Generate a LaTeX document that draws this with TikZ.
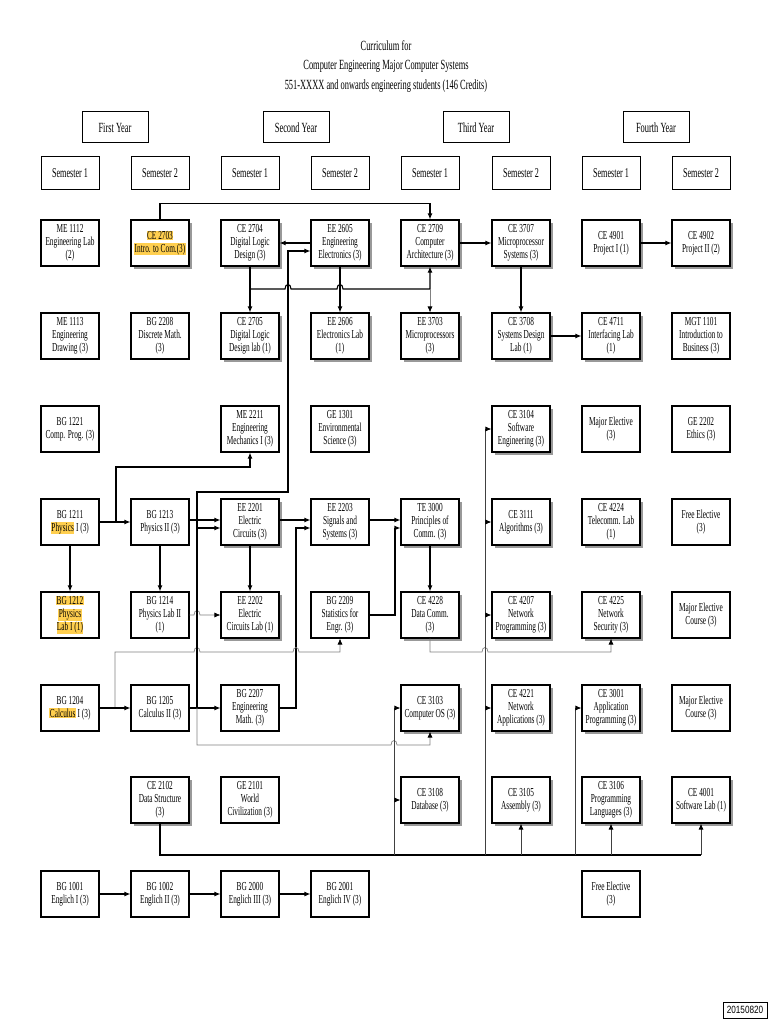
\documentclass[tikz,border=0pt]{standalone}
\usepackage{fontspec}
\setmainfont{Liberation Serif}[FakeStretch=0.6]
\newfontfamily\stampfont{Liberation Sans}[FakeStretch=0.78]
\usetikzlibrary{arrows.meta,shadows}
\definecolor{hly}{HTML}{FFCF4F}
\newcommand{\hlt}[1]{{\setlength{\fboxsep}{0.4pt}\colorbox{hly}{#1}}}
\begin{document}
\begin{tikzpicture}[x=1pt,y=-1pt,
  course/.style={draw, line width=1.1pt, fill=white, minimum width=58pt, minimum height=46pt, inner sep=0pt, align=center, font=\fontsize{12.2}{13}\selectfont},
  shad/.style={course, drop shadow={shadow xshift=3pt, shadow yshift=-3pt, fill=black!40, opacity=1}},
  sem/.style={draw, line width=1pt, minimum width=58pt, minimum height=33pt, inner sep=0pt, font=\fontsize{13.5}{14}\selectfont},
  yearbox/.style={draw, line width=1pt, minimum width=66pt, minimum height=31pt, inner sep=0pt, font=\fontsize{14}{15}\selectfont},
  conn/.style={line width=1.1pt, -{Latex[length=6pt,width=5pt]}},
  mid/.style={line width=0.8pt, draw=black!75, -{Latex[length=6pt,width=5pt,color=black]}},
  thinc/.style={line width=0.7pt, draw=black!50, -{Latex[length=6pt,width=5pt,color=black]}},
  plainline/.style={line width=1.1pt}
]
\useasboundingbox (0,0) rectangle (768,1024);

% title
\node[font=\fontsize{14}{19.5}\selectfont, align=center] (title) at (386,66.5)
  {Curriculum for\\Computer Engineering Major Computer Systems\\551-XXXX and onwards engineering students (146 Credits)};

% years
\node[yearbox] (y1) at (115,127.5) {First Year};
\node[yearbox] (y2) at (296,127.5) {Second Year};
\node[yearbox] (y3) at (476,127.5) {Third Year};
\node[yearbox] (y4) at (656,127.5) {Fourth Year};

% semesters
\node[sem] (s1) at (70,173.5) {Semester 1};
\node[sem] (s2) at (160,173.5) {Semester 2};
\node[sem] (s3) at (250,173.5) {Semester 1};
\node[sem] (s4) at (340,173.5) {Semester 2};
\node[sem] (s5) at (430,173.5) {Semester 1};
\node[sem] (s6) at (521,173.5) {Semester 2};
\node[sem] (s7) at (611,173.5) {Semester 1};
\node[sem] (s8) at (701,173.5) {Semester 2};

% row 1
\node[course] (me1112) at (70,243) {ME 1112\\Engineering Lab\\(2)};
\node[shad] (ce2703) at (160,243) {\hlt{CE 2703}\\\hlt{Intro. to Com.(3)}};
\node[shad] (ce2704) at (250,243) {CE 2704\\Digital Logic\\Design (3)};
\node[shad] (ee2605) at (340,243) {EE 2605\\Engineering\\Electronics (3)};
\node[shad] (ce2709) at (430,243) {CE 2709\\Computer\\Architecture (3)};
\node[shad] (ce3707) at (521,243) {CE 3707\\Microprocessor\\Systems (3)};
\node[shad] (ce4901) at (611,243) {CE 4901\\Project I (1)};
\node[shad] (ce4902) at (701,243) {CE 4902\\Project II (2)};

% row 2
\node[course] (me1113) at (70,336) {ME 1113\\Engineering\\Drawing (3)};
\node[course] (bg2208) at (160,336) {BG 2208\\Discrete Math.\\(3)};
\node[shad] (ce2705) at (250,336) {CE 2705\\Digital Logic\\Design lab (1)};
\node[shad] (ee2606) at (340,336) {EE 2606\\Electronics Lab\\(1)};
\node[shad] (ee3703) at (430,336) {EE 3703\\Microprocessors\\(3)};
\node[shad] (ce3708) at (521,336) {CE 3708\\Systems Design\\Lab (1)};
\node[shad] (ce4711) at (611,336) {CE 4711\\Interfacing Lab\\(1)};
\node[course] (mgt1101) at (701,336) {MGT 1101\\Introduction to\\Business (3)};

% row 3
\node[course] (bg1221) at (70,429) {BG 1221\\Comp. Prog. (3)};
\node[course] (me2211) at (250,429) {ME 2211\\Engineering\\Mechanics I (3)};
\node[course] (ge1301) at (340,429) {GE 1301\\Environmental\\Science (3)};
\node[shad] (ce3104) at (521,429) {CE 3104\\Software\\Engineering (3)};
\node[course] (majel1) at (611,429) {Major Elective\\(3)};
\node[course] (ge2202) at (701,429) {GE 2202\\Ethics (3)};

% row 4
\node[course] (bg1211) at (70,522) {BG 1211\\\hlt{Physics} I (3)};
\node[course] (bg1213) at (160,522) {BG 1213\\Physics II (3)};
\node[shad] (ee2201) at (250,522) {EE 2201\\Electric\\Circuits (3)};
\node[course] (ee2203) at (340,522) {EE 2203\\Signals and\\Systems (3)};
\node[shad] (te3000) at (430,522) {TE 3000\\Principles of\\Comm. (3)};
\node[shad] (ce3111) at (521,522) {CE 3111\\Algorithms (3)};
\node[shad] (ce4224) at (611,522) {CE 4224\\Telecomm. Lab\\(1)};
\node[course] (freel1) at (701,522) {Free Elective\\(3)};

% row 5
\node[course] (bg1212) at (70,615) {\hlt{BG 1212}\\\hlt{Physics}\\\hlt{Lab I (1)}};
\node[course] (bg1214) at (160,615) {BG 1214\\Physics Lab II\\(1)};
\node[shad] (ee2202) at (250,615) {EE 2202\\Electric\\Circuits Lab (1)};
\node[course] (bg2209) at (340,615) {BG 2209\\Statistics for\\Engr. (3)};
\node[shad] (ce4228) at (430,615) {CE 4228\\Data Comm.\\(3)};
\node[shad] (ce4207) at (521,615) {CE 4207\\Network\\Programming (3)};
\node[shad] (ce4225) at (611,615) {CE 4225\\Network\\Security (3)};
\node[course] (majel2) at (701,615) {Major Elective\\Course (3)};

% row 6
\node[course] (bg1204) at (70,708) {BG 1204\\\hlt{Calculus} I (3)};
\node[course] (bg1205) at (160,708) {BG 1205\\Calculus II (3)};
\node[course] (bg2207) at (250,708) {BG 2207\\Engineering\\Math. (3)};
\node[shad] (ce3103) at (430,708) {CE 3103\\Computer OS (3)};
\node[shad] (ce4221) at (521,708) {CE 4221\\Network\\Applications (3)};
\node[shad] (ce3001) at (611,708) {CE 3001\\Application\\Programming (3)};
\node[course] (majel3) at (701,708) {Major Elective\\Course (3)};

% row 7
\node[shad] (ce2102) at (160,800) {CE 2102\\Data Structure\\(3)};
\node[course] (ge2101) at (250,800) {GE 2101\\World\\Civilization (3)};
\node[shad] (ce3108) at (430,800) {CE 3108\\Database (3)};
\node[shad] (ce3105) at (521,800) {CE 3105\\Assembly (3)};
\node[shad] (ce3106) at (611,800) {CE 3106\\Programming\\Languages (3)};
\node[shad] (ce4001) at (701,800) {CE 4001\\Software Lab (1)};

% row 8
\node[course] (bg1001) at (70,894) {BG 1001\\Englich I (3)};
\node[course] (bg1002) at (160,894) {BG 1002\\Englich II (3)};
\node[course] (bg2000) at (250,894) {BG 2000\\Englich III (3)};
\node[course] (bg2001) at (340,894) {BG 2001\\Englich IV (3)};
\node[course] (freel2) at (611,894) {Free Elective\\(3)};

% stamp
\node[draw, line width=0.8pt, minimum width=44pt, minimum height=16pt, inner sep=0pt, font=\stampfont\fontsize{10.5}{11}\selectfont] (stamp) at (745,1010) {20150820};

% ---- connectors ----
\draw[conn] (ce2703.north) -- ++(0,-16) -| (ce2709.north);
\draw[conn] (ee2605.west) -- (ce2704.east);
\draw[conn] (ce2704.south) -- (ce2705.north);
\draw[conn] (250,289) -- (285,289) .. controls (285,283) and (291,283) .. (291,289) -- (337,289) .. controls (337,283) and (343,283) .. (343,289) -- (430,289) -- (ce2709.south);
\draw[thinc] (430,289) -- (ee3703.north);
\draw[conn] (ee2605.south) -- (ee2606.north);
\draw[conn] (ce2709.east) -- (ce3707.west);
\draw[conn] (ce3707.south) -- (ce3708.north);
\draw[conn] (ce3708.east) -- (ce4711.west);
\draw[conn] (ce4901.east) -- (ce4902.west);

\draw[conn] (bg1211.east) -- (bg1213.west);
\draw[conn] (116,522) -- (116,467) -| (me2211.south);
\draw[conn] (bg1211.south) -- (bg1212.north);
\draw[conn] ([yshift=2pt]bg1213.east) -- ([yshift=2pt]ee2201.west);
\draw[conn] (bg1213.south) -- (bg1214.north);
\draw[conn] (ee2201.south) -- (ee2202.north);
\draw[thinc] (bg1214.east) -- (194,615) .. controls (194,609) and (200,609) .. (200,615) -- (ee2202.west);
\draw[conn] ([yshift=2pt]ee2201.east) -- ([yshift=2pt]ee2203.west);
\draw[conn] (bg2207.east) -- (296,708) -- (296,528) -- ([yshift=-6pt]ee2203.west);
\draw[conn] ([yshift=2pt]ee2203.east) -- ([yshift=2pt]te3000.west);
\draw[conn] (bg2209.east) -- (395,615) -- (395,528) -- ([yshift=-6pt]te3000.west);
\draw[conn] (te3000.south) -- (ce4228.north);
\draw[thinc] (ce4228.south) -- (430,652) -- (482,652) .. controls (482,646) and (488,646) .. (488,652) -- (611,652) -- (ce4225.south);
\draw[thinc] (115,708) -- (115,652) -- (194,652) .. controls (194,646) and (200,646) .. (200,652) -- (293,652) .. controls (293,646) and (299,646) .. (299,652) -- (340,652) -- (bg2209.south);
\draw[conn] (bg1204.east) -- (bg1205.west);
\draw[conn] (bg1205.east) -- (bg2207.west);
\draw[conn] (197,708) -- (197,492) -- (288,492) -- (288,251) -- ([yshift=-8pt]ee2605.west);
\draw[conn] (197,528) -- ([yshift=-6pt]ee2201.west);
\draw[thinc] (197,708) -- (197,745) -- (391,745) .. controls (391,739) and (397,739) .. (397,745) -- (430,745) -- (ce3103.south);

% bus
\draw[plainline] (ce2102.south) -- (160,855) -- (701,855);
\draw[mid] (394,855) -- (394,708) -- (ce3103.west);
\draw[mid] (394,800) -- (ce3108.west);
\draw[mid] (485,855) -- (485,429) -- (ce3104.west);
\draw[mid] (485,522) -- (ce3111.west);
\draw[mid] (485,615) -- (ce4207.west);
\draw[mid] (485,708) -- (ce4221.west);
\draw[mid] (521,855) -- (ce3105.south);
\draw[mid] (575,855) -- (575,708) -- (ce3001.west);
\draw[mid] (611,855) -- (ce3106.south);
\draw[mid] (701,855) -- (ce4001.south);

% English
\draw[conn] (bg1001.east) -- (bg1002.west);
\draw[conn] (bg1002.east) -- (bg2000.west);
\draw[conn] (bg2000.east) -- (bg2001.west);
\end{tikzpicture}
\end{document}
